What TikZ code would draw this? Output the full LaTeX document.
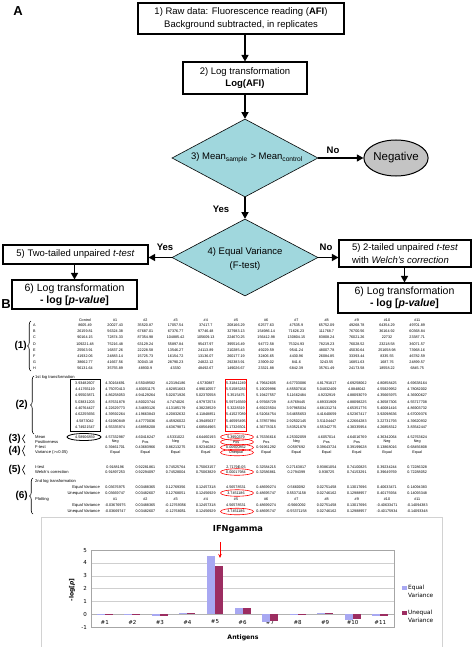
\documentclass[tikz,border=0pt]{standalone}
\usepackage{fontspec}
\setmainfont{Liberation Sans}
\newfontfamily\chartfont{DejaVu Sans}
\usetikzlibrary{arrows.meta,shapes.geometric,decorations.pathreplacing,calc}
\definecolor{dia}{HTML}{A0D7DD}
\definecolor{negc}{HTML}{C4C4C4}
\definecolor{eqc}{HTML}{A8A8F2}
\definecolor{uneqc}{HTML}{9C2D61}
\definecolor{gridc}{HTML}{CFCFCF}
\begin{document}
\begin{tikzpicture}[x=1pt,y=-1pt,
  box/.style={draw, line width=1.1pt, fill=white, inner sep=0pt, font=\fontsize{9.5}{12.5}\selectfont},
  arr/.style={line width=1.3pt, -{Triangle[length=6.5pt,width=7pt]}},
  lbl/.style={font=\bfseries\fontsize{9.5}{11}\selectfont, inner sep=0pt},
  diam/.style={diamond, draw, fill=dia, line width=0.6pt, minimum width=146pt, inner sep=0pt},
  tv/.style={font=\fontsize{3.7}{4}\selectfont, inner sep=0pt},
  tl/.style={font=\fontsize{4.1}{4.5}\selectfont, inner sep=0pt, anchor=west},
  tr/.style={font=\fontsize{4.1}{4.5}\selectfont, inner sep=0pt, anchor=east},
  brlab/.style={font=\bfseries\fontsize{10}{11}\selectfont, anchor=east, inner sep=0pt},
  brc/.style={decorate, decoration={brace, amplitude=3.5pt}, line width=0.6pt},
  sbrc/.style={decorate, decoration={brace, amplitude=2.5pt}, line width=0.6pt},
  cf/.style={font=\chartfont\fontsize{5.5}{6}\selectfont, inner sep=0pt},
  redell/.style={draw=red, line width=0.6pt, ellipse, minimum width=33pt, minimum height=6.5pt, inner sep=0pt}
]
\useasboundingbox (0,0) rectangle (474,647);
\fill[white] (0,0) rectangle (474,647);

% ---------- Part A ----------
\node[font=\bfseries\fontsize{13}{13}\selectfont, inner sep=0pt] (labA) at (18,11) {A};
\node[box, minimum width=206pt, minimum height=31pt, align=center] (b1) at (241,18.5)
  {1) Raw data: Fluorescence reading (\textbf{AFI})\\Background subtracted, in replicates};
\node[box, minimum width=124pt, minimum height=32pt, align=center] (b2) at (245,78)
  {2) Log transformation\\\textbf{Log(AFI)}};
\node[diam, minimum height=78pt] (d3) at (245,158) {};
\node[font=\fontsize{9.5}{11}\selectfont, inner sep=0pt] (d3t) at (247,158)
  {3) Mean\textsubscript{sample} > Mean\textsubscript{control}};
\node[ellipse, draw, fill=negc, line width=1pt, minimum width=58pt, minimum height=36pt, inner sep=0pt,
  font=\fontsize{11.5}{12}\selectfont] (neg) at (396,158) {Negative};
\node[diam, minimum height=77pt] (d4) at (245,257.5) {};
\node[align=center, font=\fontsize{9.5}{14}\selectfont, inner sep=0pt] (d4t) at (245,259)
  {4) Equal Variance\\(F-test)};
\node[box, minimum width=145pt, minimum height=19pt] (b5l) at (75.5,254.5)
  {5) Two-tailed unpaired \textit{t-test}};
\node[box, minimum width=132pt, minimum height=27pt, align=left] (b5r) at (405,253.5)
  {5) 2-tailed unpaired \textit{t-test}\\with \textit{Welch's correction}};
\node[box, minimum width=125pt, minimum height=29pt, align=center, font=\fontsize{10.5}{12}\selectfont] (b6l) at (74.5,294.5)
  {6) Log transformation\\\textbf{- log [\textit{p-value}]}};
\node[box, minimum width=133pt, minimum height=30pt, align=center, font=\fontsize{10.5}{12}\selectfont] (b6r) at (404.5,298)
  {6) Log transformation\\\textbf{- log [\textit{p-value}]}};

\draw[arr] (b2.north |- b1.south) -- (b2.north);
\draw[arr] (b2.south) -- (d3.north);
\draw[arr] (d3.east) -- (neg.west);
\node[lbl] (no1) at (333,150) {No};
\draw[arr] (d3.south) -- (d4.north);
\node[lbl] (yes1) at (221,209) {Yes};
\draw[arr] (d4.west) -- (d4.west -| b5l.east);
\node[lbl] (yes2) at (165,247) {Yes};
\draw[arr] (d4.east) -- (d4.east -| b5r.west);
\node[lbl] (no2) at (326,247) {No};
\draw[arr] (b6l.north |- b5l.south) -- (b6l.north);
\draw[arr] (b6r.north |- b5r.south) -- (b6r.north);

% ---------- Part B : table ----------
\node[font=\bfseries\fontsize{13}{13}\selectfont, inner sep=0pt] (labB) at (6,304) {B};

\foreach \h [count=\i from 0] in {Control,{\#1},{\#2},{\#3},{\#4},{\#5},{\#6},{\#7},{\#8},{\#9},{\#10},{\#11}}
  \node[tv] (h\i) at ({85+\i*30.2},320) {\h};
\foreach \l [count=\i from 0] in {A,B,C,D,E,F,G,H}
  \node[tv, anchor=west] (rl\i) at (33,{325.5+\i*6.1}) {\l};

\foreach \vals [count=\c from 0] in {
 {8605.49,26159.81,90164.15,109221.48,25563.91,41932.06,38662.77,56131.64},
 {20027.43,56324.38,72874.33,75216.48,16837.26,24883.14,41667.56,35755.89},
 {35520.87,67687.01,87354.98,63129.24,22228.58,15725.73,30043.18,48930.9},
 {17057.54,67376.77,104885.42,55897.84,13546.27,16154.72,28790.23,43330},
 {37417.7,97746.48,105609.13,95437.97,24113.89,13136.07,24822.12,48492.67},
 {208166.29,327983.13,224670.25,395516.49,210285.43,260177.19,292383.91,149026.67},
 {62577.63,154986.14,156412.98,94772.58,49229.59,32406.65,23909.02,23321.88},
 {47535.9,71626.23,130804.15,75324.93,9541.24,4430.96,841.6,6842.39},
 {65752.09,111768.7,83808.24,78219.23,48007.78,26084.85,3243.55,35761.49},
 {49268.78,76700.56,76021.26,76028.52,45030.64,33393.44,16851.63,24173.58},
 {64354.29,36164.92,22732,23218.58,251658.98,8335.55,1687.76,18558.22},
 {49701.89,60368.84,23387.71,36071.57,73968.16,46782.59,24899.57,6845.75}}
{
  \foreach \v [count=\r from 0] in \vals
    \node[tv] (a\c-\r) at ({85+\c*30.2},{325.5+\r*6.1}) {\v};
}

\node[tl] (lt1) at (35,377) {1st log transformation};
\foreach \vals [count=\c from 0] in {
 {3.93482607,4.41765119,4.95503871,5.03831203,4.40764427,4.62255656,4.5873042,4.74921547},
 {4.30164691,4.75070413,4.86258053,4.87631878,4.22629773,4.39592264,4.61980849,4.55335974},
 {4.55049582,4.83051175,4.94129264,4.80023744,4.34693126,4.19663843,4.47770036,4.68958208},
 {4.23194186,4.82851663,5.02071926,4.7474026,4.13185179,4.20832632,4.45926022,4.63679871},
 {4.5730887,4.99010557,5.02370558,4.97972574,4.38228529,4.11848851,4.39485637,4.68564965},
 {5.31841249,5.51585283,5.3515475,5.59716569,5.3228319,5.41527089,5.46595495,5.17326501},
 {4.79642605,5.19029996,5.19427557,4.97668729,4.69223504,4.51064754,4.37857994,4.36778315},
 {4.67703086,4.85507816,5.11662484,4.8769445,3.97965034,3.64655653,2.92502145,3.83521878},
 {4.81791817,5.04832409,4.9232919,4.89331909,4.68131274,4.41640659,3.51104447,4.55342775},
 {4.69258062,4.8848042,4.88093079,4.88098225,4.65351776,4.52367417,4.22664283,4.38335954},
 {4.80858425,4.55829952,4.35665975,4.36587306,5.40081416,3.92098636,3.22731793,4.26858312},
 {4.69638164,4.78082002,4.36900627,4.55717708,4.86903732,4.67009376,4.39620932,3.83542447}}
{
  \foreach \v [count=\r from 0] in \vals
    \node[tv] (l\c-\r) at ({85+\c*30.2},{383+\r*6.3}) {\v};
}
\node[draw, line width=0.8pt, minimum width=30pt, minimum height=52pt, inner sep=0pt] (cbox) at (85,405) {};
\node[draw=red, line width=0.7pt, minimum width=21pt, minimum height=52pt, inner sep=0pt] (rbox) at (236,405) {};

\node[tl] (tmean) at (35,437) {Mean};
\node[tl] (tpos) at (35,442) {Positiveness};
\node[tl] (tf) at (35,447.5) {F-test};
\node[tl] (tvar) at (35,452.5) {Variance (>=0.05)};
\foreach \v [count=\c from 0] in {4.58906859,4.57332987,4.60418247,4.5331022,4.64460193,5.3950379,4.76336616,4.25302059,4.6057014,4.64016769,4.36342064,4.52763624}
  \node[tv] (mn\c) at ({85+\c*30.2},437) {\v};
\foreach \v [count=\c from 1] in {Neg,Pos,Neg,Pos,Pos,Pos,Neg,Pos,Pos,Neg,Neg}
  \node[tv] (ps\c) at ({85+\c*30.2},442) {\v};
\foreach \v [count=\c from 1] in {0.39461701,0.43683966,0.86213275,0.92340282,0.00500852,0.91961292,0.0597692,0.39643724,0.39199628,0.13868016,0.68456808}
  \node[tv] (ft\c) at ({85+\c*30.2},447.5) {\v};
\foreach \v [count=\c from 1] in {Equal,Equal,Equal,Equal,Unequal,Equal,Equal,Equal,Equal,Equal,Equal}
  \node[tv] (vr\c) at ({85+\c*30.2},452.5) {\v};

\node[tl] (ttt) at (35,467) {t-test};
\node[tl] (twc) at (35,472) {Welch's correction};
\foreach \v [count=\c from 1] in {0.9188196,0.92281861,0.74525764,0.75063157,2.7179E-05,0.32584215,0.27163817,0.93861054,0.74100825,0.39234244,0.72286328}
  \node[tv] (tt\c) at ({85+\c*30.2},467) {\v};
\foreach \v [count=\c from 1] in {0.91897253,0.92294097,0.74528004,0.75063829,0.00017984,0.32586861,0.2794399,0.938725,0.74153291,0.39649769,0.72288052}
  \node[tv] (wc\c) at ({85+\c*30.2},472) {\v};

\node[tl] (lt2) at (35,481.5) {2nd log transformation};
\node[tr] (teq1) at (100,487.5) {Equal Variance};
\node[tr] (tun1) at (100,493) {Unequal Variance};
\node[tl] (tplot) at (35,499) {Plotting};
\node[tr] (teq2) at (100,505.5) {Equal Variance};
\node[tr] (tun2) at (100,511.5) {Unequal Variance};
\foreach \v [count=\c from 1] in {0.03676975,0.03488365,0.12769356,0.12457318,4.56578531,0.48699274,0.5660092,0.02751458,0.13017696,0.40633471,0.14094383}
  \node[tv] (ea\c) at ({85+\c*30.2},487.5) {\v};
\foreach \v [count=\c from 1] in {0.03669747,0.03482607,0.12768051,0.12456929,3.7451186,0.48695747,0.55371158,0.02746162,0.12988957,0.40175934,0.14093348}
  \node[tv] (ua\c) at ({85+\c*30.2},493) {\v};
\foreach \c in {1,...,11}
  \node[tv] (ph\c) at ({85+\c*30.2},499) {\#\c};
\foreach \v [count=\c from 1] in {-0.03676975,0.03488365,-0.12769356,0.12457318,4.56578531,0.48699274,-0.5660092,0.02751458,0.13017696,-0.40633471,-0.14094383}
  \node[tv] (eb\c) at ({85+\c*30.2},505.5) {\v};
\foreach \v [count=\c from 1] in {-0.03669747,0.03482607,-0.12768051,0.12456929,3.7451186,0.48695747,-0.55371158,0.02746162,0.12988957,-0.40175934,-0.14093348}
  \node[tv] (ub\c) at ({85+\c*30.2},511.5) {\v};

% ellipses
\node[draw, line width=0.8pt, ellipse, minimum width=34pt, minimum height=7pt, inner sep=0pt] (cell) at (84,437) {};
\foreach \yy [count=\k] in {437,442,447.5,452.5,472,493,511.5}
  \node[redell] (re\k) at (237,\yy) {};

% braces
\draw[brc] (31,371) -- (31,321);
\node[brlab] (br1) at (27,346) {(1)};
\draw[brc] (34,434) -- (34,376);
\node[brlab] (br2) at (28,405) {(2)};
\draw[sbrc] (25,443) -- (25,434.5);
\node[brlab] (br3) at (21,439) {(3)};
\draw[sbrc] (25,456) -- (25,445.5);
\node[brlab] (br4) at (21,451) {(4)};
\draw[sbrc] (25,474.5) -- (25,465);
\node[brlab] (br5) at (21,470) {(5)};
\draw[brc] (33,514) -- (33,478);
\node[brlab] (br6) at (28,496) {(6)};

% ---------- chart ----------
\draw[gray!35, line width=0.7pt] (41,650) -- (41,517) -- (442,517) -- (442,650);
\node[font=\chartfont\bfseries\fontsize{8.3}{9}\selectfont, inner sep=0pt] (title) at (238,529) {IFNgamma};
\foreach \k in {1,...,4}
  \draw[gridc, line width=0.5pt] (91,{614.3-\k*12.85}) -- (394,{614.3-\k*12.85});
\draw[gray!60, line width=0.5pt] (91,614.3) -- (394,614.3);
\foreach \k in {-1,0,1,2,3,4,5}
  \node[cf, anchor=east] (yt\k) at (87,{614.3-\k*12.85}) {\k};
\node[font=\chartfont\bfseries\fontsize{6}{7}\selectfont, rotate=90, inner sep=0pt] (ylab) at (72,590) {-log[\textit{p}]};
\foreach \i in {1,...,11}
  \node[cf] (xl\i) at ({91+(\i-0.5)*27.545},622) {\#\i};
\foreach \e/\u [count=\i] in {-0.03676975/-0.03669747,0.03488365/0.03482607,-0.12769356/-0.12768051,0.12457318/0.12456929,4.56578531/3.7451186,0.48699274/0.48695747,-0.5660092/-0.55371158,0.02751458/0.02746162,0.13017696/0.12988957,-0.40633471/-0.40175934,-0.14094383/-0.14093348}
{
  \pgfmathsetmacro\cx{91+(\i-0.5)*27.545}
  \fill[eqc] ({\cx-8},614.3) rectangle (\cx,{614.3-\e*12.85});
  \fill[uneqc] (\cx,614.3) rectangle ({\cx+8},{614.3-\u*12.85});
}
\draw[gray!70, line width=0.5pt] (91,550) rectangle (394,627.15);
\coordinate (ra1) at (220,542);
\coordinate (ra2) at (220,558);
\draw[red, line width=0.8pt, -{Stealth[length=4pt,width=3.5pt]}] (ra1) -- (ra2);
\node[font=\chartfont\bfseries\fontsize{6.2}{7}\selectfont, inner sep=0pt] (xlab) at (243,638) {Antigens};
\fill[eqc] (402,585.5) rectangle (406.5,590);
\node[cf, anchor=north west, align=left, font=\chartfont\fontsize{5.8}{8.5}\selectfont] (leg1) at (408,584.5) {Equal\\Variance};
\fill[uneqc] (402,610.5) rectangle (406.5,615);
\node[cf, anchor=north west, align=left, font=\chartfont\fontsize{5.8}{8.5}\selectfont] (leg2) at (408,609.5) {Unequal\\Variance};
\end{tikzpicture}
\end{document}
